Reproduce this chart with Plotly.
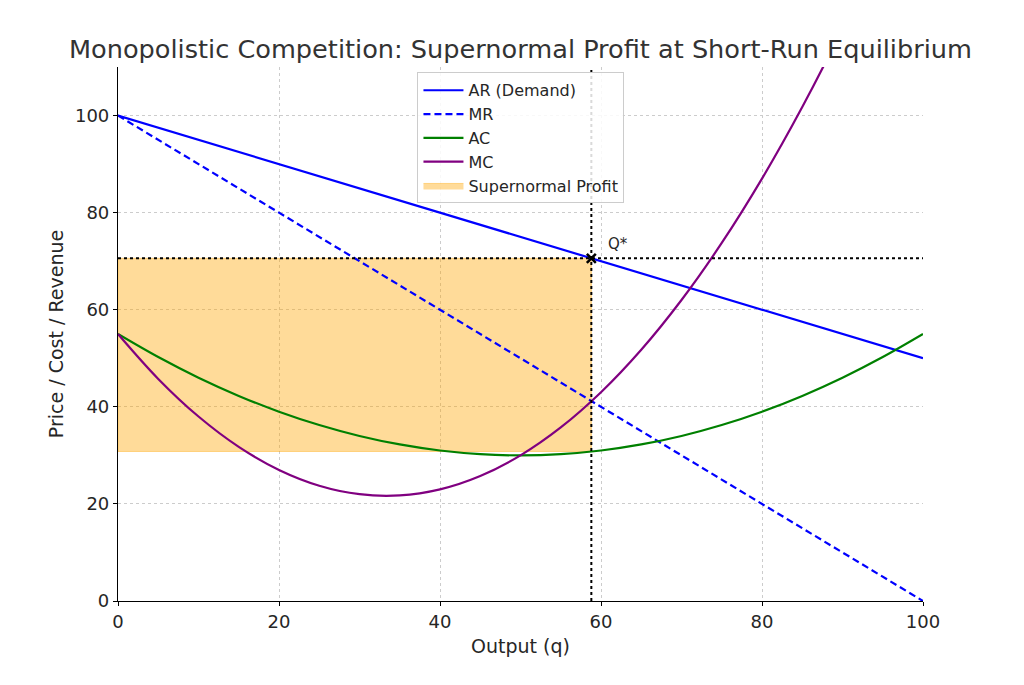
import plotly.graph_objects as go

# ---- data ----
q_lin = [0, 100]
ar_vals = [100, 50]
mr_vals = [100, 0]

q_curve = [0, 5, 10, 15, 20, 25, 30, 35, 40, 45, 50, 55, 60, 65, 70, 75, 80, 85, 90, 95, 100]
ac_vals = [55, 50.25, 46, 42.25, 39, 36.25, 34, 32.25, 31, 30.25, 30, 30.25, 31, 32.25, 34,
           36.25, 39, 42.25, 46, 50.25, 55]
mc_vals = [55, 45.75, 38, 31.75, 27, 23.75, 22, 21.75, 23, 25.75, 30, 35.75, 43, 51.75, 62,
           73.75, 87, 101.75, 118, 135.75, 155]

q_star = 58.8
p_star = 70.6
ac_star = 30.8

x_ticks = [0, 20, 40, 60, 80, 100]
y_ticks = [0, 20, 40, 60, 80, 100]

FONT = "DejaVu Sans"
TXT = "#262626"

fig = go.Figure()

# profit rectangle (drawn first, listed last in legend)
fig.add_trace(go.Scatter(
    x=[0, q_star, q_star, 0, 0], y=[ac_star, ac_star, p_star, p_star, ac_star],
    mode="lines", fill="toself", fillcolor="rgba(255,165,0,0.4)",
    line=dict(color="rgba(255,165,0,0.4)", width=1),
    name="Supernormal Profit", legendrank=5))

fig.add_trace(go.Scatter(x=q_lin, y=ar_vals, mode="lines", name="AR (Demand)",
                         line=dict(color="#0000FF", width=2.2), legendrank=1))
fig.add_trace(go.Scatter(x=q_lin, y=mr_vals, mode="lines", name="MR",
                         line=dict(color="#0000FF", width=2.2, dash="7px,4px"), legendrank=2))
fig.add_trace(go.Scatter(x=q_curve, y=ac_vals, mode="lines", name="AC", line_shape="spline",
                         line=dict(color="#008000", width=2.2), legendrank=3))
fig.add_trace(go.Scatter(x=q_curve, y=mc_vals, mode="lines", name="MC", line_shape="spline",
                         line=dict(color="#800080", width=2.2), legendrank=4))

# equilibrium guides
fig.add_trace(go.Scatter(x=[0, 100], y=[p_star, p_star], mode="lines", showlegend=False,
                         line=dict(color="black", width=2, dash="dot"), hoverinfo="skip"))
fig.add_trace(go.Scatter(x=[q_star, q_star], y=[0, 110], mode="lines", showlegend=False,
                         line=dict(color="black", width=2, dash="dot"), hoverinfo="skip"))
fig.add_trace(go.Scatter(x=[q_star], y=[p_star], mode="markers", showlegend=False,
                         marker=dict(symbol="x-thin", size=9, line=dict(color="black", width=2.5))))

fig.add_annotation(x=q_star + 1.8, y=p_star + 3, text="Q*", showarrow=False,
                   xanchor="left", yanchor="middle", font=dict(family=FONT, size=15, color=TXT))

axis_common = dict(
    showgrid=True, gridcolor="#cccccc", gridwidth=0.8, griddash="3px,3px",
    showline=True, linecolor="black", linewidth=1.2, mirror=False,
    ticks="outside", ticklen=4, tickcolor="black", zeroline=False,
    tickfont=dict(family=FONT, size=18, color=TXT),
)

fig.update_xaxes(range=[0, 100], tickvals=x_ticks,
                 title=dict(text="Output (q)", font=dict(family=FONT, size=19, color=TXT), standoff=8),
                 **axis_common)
fig.update_yaxes(range=[0, 110], tickvals=y_ticks,
                 title=dict(text="Price / Cost / Revenue", font=dict(family=FONT, size=19, color=TXT), standoff=6),
                 **axis_common)

fig.update_layout(
    width=1024, height=685,
    margin=dict(l=118, r=101, t=67, b=84),
    plot_bgcolor="white", paper_bgcolor="white",
    title=dict(text="Monopolistic Competition: Supernormal Profit at Short-Run Equilibrium",
               x=0.5, xref="paper", xanchor="center", y=0.928, yanchor="middle",
               font=dict(family=FONT, size=25.6, color="#333333")),
    legend=dict(x=0.372, y=0.99, xanchor="left", yanchor="top",
                bgcolor="rgba(255,255,255,0.85)", bordercolor="#cccccc", borderwidth=1,
                font=dict(family=FONT, size=16, color=TXT), tracegroupgap=0,
                itemwidth=40),
    showlegend=True,
)

fig.write_html("out.html")
